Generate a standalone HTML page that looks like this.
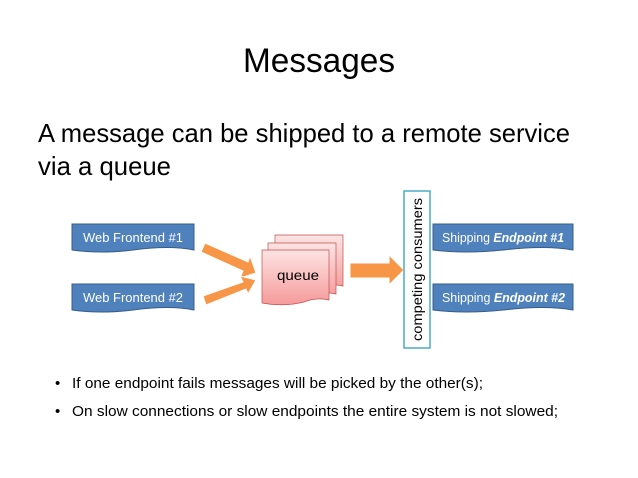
<!DOCTYPE html>
<html><head><meta charset="utf-8"><style>
html,body{margin:0;padding:0;background:#fff;}
body{width:638px;height:478px;overflow:hidden;position:relative;font-family:"Liberation Sans",sans-serif;}
</style></head><body>
<svg width="638" height="478" viewBox="0 0 638 478" xmlns="http://www.w3.org/2000/svg" style="position:absolute;left:0;top:0" font-family="Liberation Sans, sans-serif">
<defs>
<linearGradient id="pk" x1="0" y1="0" x2="0" y2="1"><stop offset="0" stop-color="#fde4e4"/><stop offset="1" stop-color="#f59a9a"/></linearGradient>
</defs>
<text x="243" y="72" font-size="34" fill="#000" textLength="152" lengthAdjust="spacingAndGlyphs">Messages</text>
<text x="38" y="142" font-size="26" fill="#000" textLength="532" lengthAdjust="spacingAndGlyphs">A message can be shipped to a remote service</text>
<text x="38" y="175" font-size="26" fill="#000" textLength="133" lengthAdjust="spacingAndGlyphs">via a queue</text>
<path d="M72,224 H194 V250 Q170,245 133,250 Q100,254 72,250 Z" fill="#4f81bd" stroke="#385d8a" stroke-width="1"/>
<text x="83" y="242" font-size="13" fill="#fff" textLength="100" lengthAdjust="spacingAndGlyphs">Web Frontend #1</text>
<path d="M72,284 H194 V310 Q170,305 133,310 Q100,314 72,310 Z" fill="#4f81bd" stroke="#385d8a" stroke-width="1"/>
<text x="83" y="302" font-size="13" fill="#fff" textLength="100" lengthAdjust="spacingAndGlyphs">Web Frontend #2</text>
<polygon points="205,243 248,262 250,256 256,273 240,278 243,271 201,252" fill="#f79646" stroke="#fff" stroke-width="1"/>
<polygon points="203,296 243,282 240,276 256,280 248,294 246,289 206,305" fill="#f79646" stroke="#fff" stroke-width="1"/>
<path d="M275,235 H343 V286 Q330,283 318,288 Q298,293 275,289 Z" fill="url(#pk)" stroke="#c0504d" stroke-width="0.7"/>
<path d="M268,243 H336 V294 Q323,291 311,296 Q291,301 268,297 Z" fill="url(#pk)" stroke="#c0504d" stroke-width="0.7"/>
<path d="M262,250 H329 V300 Q316,297 304,302 Q284,307 262,303 Z" fill="url(#pk)" stroke="#c0504d" stroke-width="0.7"/>
<text x="277" y="280" font-size="14" fill="#000" textLength="42" lengthAdjust="spacingAndGlyphs">queue</text>
<polygon points="350,263 389,263 389,255 404,270 389,285 389,278 350,278" fill="#f79646" stroke="#fff" stroke-width="1"/>
<rect x="404" y="191" width="26" height="157" fill="#fff" stroke="#4bacc6" stroke-width="1.5"/>
<text transform="translate(422,341) rotate(-90)" font-size="14" fill="#000" textLength="143" lengthAdjust="spacingAndGlyphs">competing consumers</text>
<path d="M433,224 H573 V250 Q545,245 503,250 Q465,254 433,250 Z" fill="#4f81bd" stroke="#385d8a" stroke-width="1"/>
<text x="442" y="242" font-size="13" fill="#fff" textLength="122" lengthAdjust="spacingAndGlyphs">Shipping <tspan font-weight="bold" font-style="italic">Endpoint #1</tspan></text>
<path d="M433,284 H573 V310 Q545,305 503,310 Q465,314 433,310 Z" fill="#4f81bd" stroke="#385d8a" stroke-width="1"/>
<text x="442" y="302" font-size="13" fill="#fff" textLength="123" lengthAdjust="spacingAndGlyphs">Shipping <tspan font-weight="bold" font-style="italic">Endpoint #2</tspan></text>
<text x="55" y="388" font-size="15" fill="#000">•</text>
<text x="72" y="388" font-size="15" fill="#000" textLength="411" lengthAdjust="spacingAndGlyphs">If one endpoint fails messages will be picked by the other(s);</text>
<text x="55" y="416" font-size="15" fill="#000">•</text>
<text x="72" y="416" font-size="15" fill="#000" textLength="486" lengthAdjust="spacingAndGlyphs">On slow connections or slow endpoints the entire system is not slowed;</text>
</svg>
</body></html>
